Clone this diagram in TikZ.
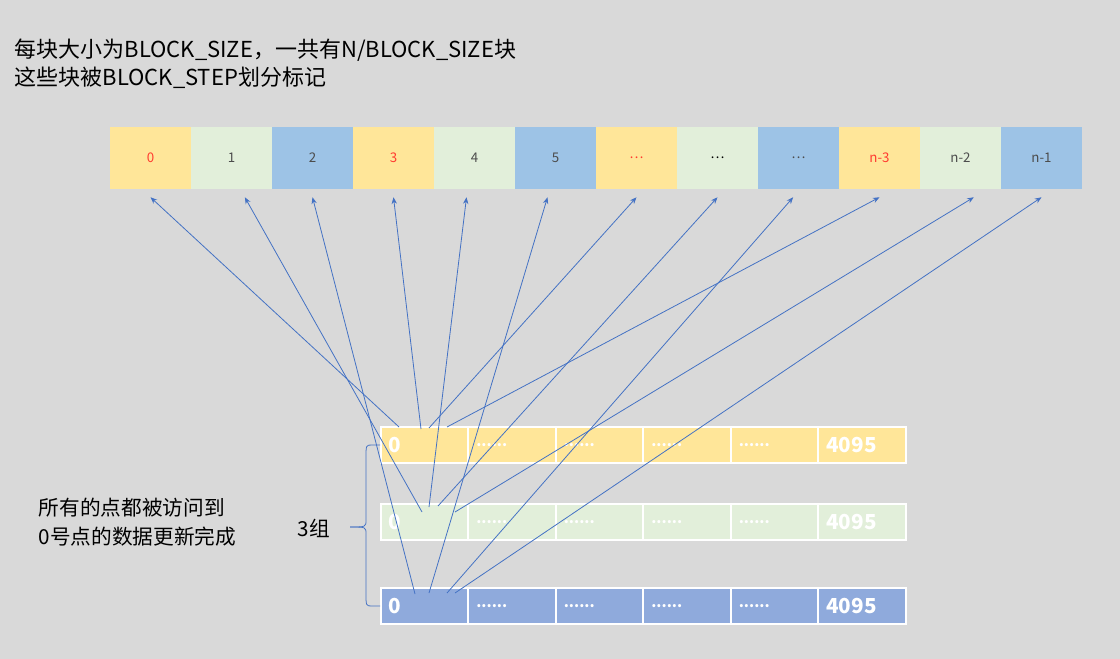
\documentclass[tikz,border=0pt]{standalone}
\usepackage{fontspec}
\setmainfont{Noto Sans CJK SC}
\usepackage{tikz}
\usetikzlibrary{arrows.meta}
\definecolor{bg}{HTML}{D9D9D9}
\definecolor{cyel}{HTML}{FFE699}
\definecolor{cgrn}{HTML}{E2EFDA}
\definecolor{cblu}{HTML}{9DC3E6}
\definecolor{dblu}{HTML}{8FAADC}
\definecolor{lnk}{HTML}{4472C4}
\definecolor{lred}{HTML}{FF3B30}

\begin{document}
\begin{tikzpicture}[x=0.75pt,y=-0.75pt,
    blk/.style={minimum width=60.8pt,minimum height=46.5pt,inner sep=0pt,font=\fontsize{10}{11}\selectfont},
    cell/.style={draw=white,line width=1.2pt,minimum width=65.6pt,minimum height=27pt,inner xsep=6pt,inner ysep=0pt,
      text width=53.6pt,align=left,text=white,font=\bfseries\fontsize{15.5}{17}\selectfont},
    link/.style={lnk,line width=0.6pt,-{Stealth[length=5pt,width=4pt]}}]
    \fill[bg] (0,0) rectangle (1120,659);

    \node[anchor=west,font=\fontsize{16.5}{19}\selectfont] (t1) at (10,50) {每块大小为BLOCK\_SIZE，一共有N/BLOCK\_SIZE块};
    \node[anchor=west,font=\fontsize{16.5}{19}\selectfont] (t2) at (10,78) {这些块被BLOCK\_STEP划分标记};

    % top blocks
    \foreach \i/\lab/\fc/\tc in {0/0/cyel/lred,1/1/cgrn/black!70,2/2/cblu/black!70,3/3/cyel/lred,
        4/4/cgrn/black!70,5/5/cblu/black!70,6/\dots/cyel/lred,7/\dots/cgrn/black,8/\dots/cblu/black!70,
        9/n-3/cyel/lred,10/n-2/cgrn/black!70,11/n-1/cblu/black!70}
      \node[blk,fill=\fc,text=\tc] (c\i) at (150.5+81*\i,158) {\lab};

    % bottom rows
    \foreach \r/\fc/\y in {ya/cyel/445,gr/cgrn/522,bl/dblu/606}{
      \foreach \k/\lab in {0/0,1/{\fontsize{11}{12}\selectfont......},2/{\fontsize{11}{12}\selectfont......},
          3/{\fontsize{11}{12}\selectfont......},4/{\fontsize{11}{12}\selectfont......},5/4095}
        \node[cell,fill=\fc,anchor=west] (\r\k) at (380+87.5*\k,\y) {\lab};
    }

    % link starts
    \coordinate (a1) at (399,427); \coordinate (a2) at (421,429);
    \coordinate (a3) at (429,428); \coordinate (a4) at (447,427);
    \coordinate (b1) at (422,512); \coordinate (b2) at (429,507);
    \coordinate (b3) at (438,506); \coordinate (b4) at (455,512);
    \coordinate (p1) at (415,594); \coordinate (p2) at (429,593);
    \coordinate (p3) at (447,593); \coordinate (p4) at (455,593);

    \draw[link] (a1) -- ([yshift=-6pt]c0.south);
    \draw[link] (a2) -- ([yshift=-6pt]c3.south);
    \draw[link] (a3) -- ([yshift=-6pt]c6.south);
    \draw[link] (a4) -- ([yshift=-6pt]c9.south);
    \draw[link] (b1) -- ([yshift=-6pt,xshift=10pt]c1.south);
    \draw[link] (b2) -- ([yshift=-6pt,xshift=-6pt]c4.south);
    \draw[link] (b3) -- ([yshift=-6pt]c7.south);
    \draw[link] (b4) -- ([yshift=-6pt,xshift=10pt]c10.south);
    \draw[link] (p1) -- ([yshift=-6pt]c2.south);
    \draw[link] (p2) -- ([yshift=-6pt,xshift=-6pt]c5.south);
    \draw[link] (p3) -- ([yshift=-6pt,xshift=-4pt]c8.south);
    \draw[link] (p4) -- ([yshift=-6pt]c11.south);

    % brace
    \draw[lnk,line width=0.6pt] (ya0.west) -- ++(-8,0)
      .. controls (366,445) .. (366,458) -- (366,520) .. controls (366,527) .. (350,527);
    \draw[lnk,line width=0.6pt] (bl0.west) -- ++(-8,0)
      .. controls (366,606) .. (366,593) -- (366,534) .. controls (366,527) .. (350,527);

    \node[font=\fontsize{15.5}{18}\selectfont] (g) at (314,528) {3组};
    \node[anchor=west,align=left,font=\fontsize{15.5}{22}\selectfont] (s) at (34,522) {所有的点都被访问到\\0号点的数据更新完成};
  \end{tikzpicture}
\end{document}
